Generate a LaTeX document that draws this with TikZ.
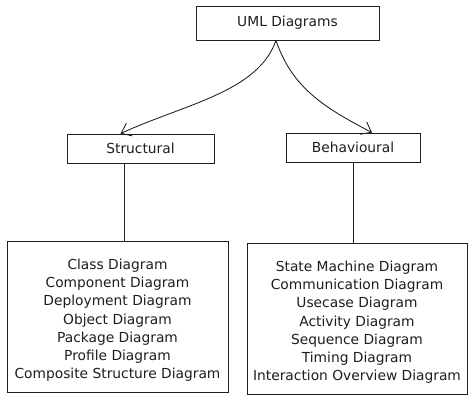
\documentclass[tikz,border=0pt]{standalone}
\usepackage{fontspec}
\setmainfont{DejaVu Sans}
\usetikzlibrary{arrows.meta}
\definecolor{ink}{HTML}{1E1E1E}
\begin{document}
\begin{tikzpicture}[x=1pt,y=-1pt,
  box/.style={draw=ink,line width=0.85pt,rectangle,inner sep=0pt,text=ink,
    font=\fontsize{13.8}{18.2}\selectfont,align=center},
  conn/.style={draw=ink,line width=0.85pt},
  arr/.style={conn,-{Straight Barb[length=9pt,width=14pt,line width=0.85pt]}}]
\useasboundingbox[fill=white] (0,0) rectangle (474,401);
\node[box,minimum width=183pt,minimum height=34pt] (uml) at (287.5,23) {UML Diagrams};
\node[box,minimum width=147pt,minimum height=29pt] (struct) at (140.5,148.5) {Structural};
\node[box,minimum width=134pt,minimum height=29pt] (behav) at (353,147.5) {Behavioural};
\node[box,minimum width=221pt,minimum height=151pt] (lbox) at (117.5,316.5)
  {\rule{0pt}{18pt}Class Diagram\\Component Diagram\\Deployment Diagram\\Object Diagram\\Package Diagram\\Profile Diagram\\Composite Structure Diagram};
\node[box,minimum width=220pt,minimum height=151pt] (rbox) at (357,318.5)
  {\rule{0pt}{18pt}State Machine Diagram\\Communication Diagram\\Usecase Diagram\\Activity Diagram\\Sequence Diagram\\Timing Diagram\\Interaction Overview Diagram};
\draw[arr] ([xshift=-11.5pt]uml.south) .. controls (258,92) and (185,104) .. ([xshift=-20pt]struct.north);
\draw[arr] ([xshift=-11.5pt]uml.south) .. controls (292,88) and (325,108) .. ([xshift=19pt]behav.north);
\draw[conn] ([xshift=-16.5pt]struct.south) -- ([xshift=-16.5pt]struct.south |- lbox.north);
\draw[conn] (behav.south) -- (behav.south |- rbox.north);
\end{tikzpicture}
\end{document}
